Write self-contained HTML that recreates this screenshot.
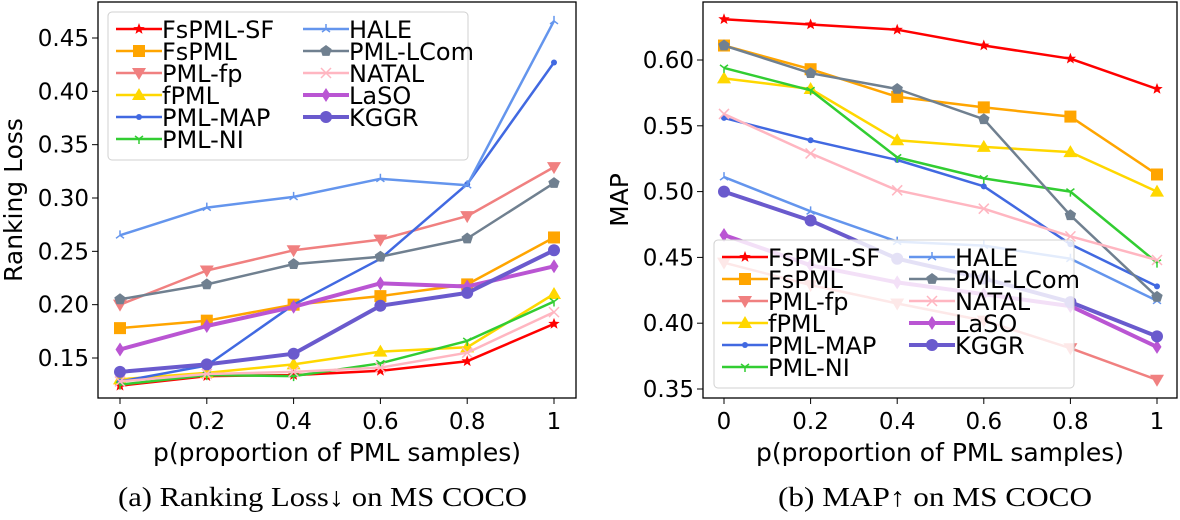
<!DOCTYPE html>
<html><head><meta charset="utf-8"><style>
body{margin:0;background:#fff;width:1180px;height:520px;overflow:hidden}
svg{display:block;font-family:"DejaVu Sans","Liberation Sans",sans-serif}
.cap{font-family:"Liberation Serif",serif}
</style></head><body>
<svg id="s" width="1180" height="520">
<text class="cap" x="118" y="506" font-size="27" textLength="409" lengthAdjust="spacingAndGlyphs">(a) Ranking Loss↓ on MS COCO</text>
<text class="cap" x="778" y="506" font-size="27" textLength="314" lengthAdjust="spacingAndGlyphs">(b) MAP↑ on MS COCO</text>
</svg>
<script>
const xCats=[0,0.2,0.4,0.6,0.8,1];
const xTickLabels=["0","0.2","0.4","0.6","0.8","1"];
const names=["FsPML-SF","FsPML","PML-fp","fPML","PML-MAP","PML-NI","HALE","PML-LCom","NATAL","LaSO","KGGR"];
const rlFsPMLSF=[0.124,0.133,0.134,0.138,0.147,0.182];
const rlFsPML=[0.178,0.185,0.200,0.208,0.219,0.263];
const rlPMLfp=[0.200,0.232,0.251,0.261,0.283,0.329];
const rlfPML=[0.130,0.136,0.144,0.156,0.160,0.210];
const rlPMLMAP=[0.128,0.143,0.200,0.243,0.313,0.427];
const rlPMLNI=[0.125,0.134,0.133,0.145,0.166,0.203];
const rlHALE=[0.265,0.291,0.301,0.318,0.312,0.466];
const rlLCom=[0.205,0.219,0.238,0.245,0.262,0.314];
const rlNATAL=[0.128,0.135,0.137,0.141,0.155,0.193];
const rlLaSO=[0.158,0.180,0.198,0.220,0.217,0.236];
const rlKGGR=[0.137,0.144,0.154,0.199,0.211,0.251];
const mapFsPMLSF=[0.631,0.627,0.623,0.611,0.601,0.578];
const mapFsPML=[0.611,0.593,0.572,0.564,0.557,0.513];
const mapPMLfp=[0.446,0.429,0.415,0.402,0.381,0.357];
const mapfPML=[0.586,0.578,0.539,0.534,0.530,0.500];
const mapPMLMAP=[0.556,0.539,0.524,0.504,0.460,0.428];
const mapPMLNI=[0.594,0.577,0.526,0.510,0.500,0.446];
const mapHALE=[0.511,0.485,0.462,0.459,0.449,0.417];
const mapLCom=[0.611,0.590,0.578,0.555,0.482,0.420];
const mapNATAL=[0.559,0.529,0.501,0.487,0.466,0.448];
const mapLaSO=[0.467,0.444,0.431,0.422,0.413,0.382];
const mapKGGR=[0.500,0.478,0.449,0.434,0.416,0.390];
const rlTicks=[0.15,0.20,0.25,0.30,0.35,0.40,0.45];
const mapTicks=[0.35,0.40,0.45,0.50,0.55,0.60];

const colors=["#ff0000","#ffa500","#f08080","#ffd700","#4169e1","#32cd32","#6495ed","#708090","#ffb6c1","#ba55d3","#6a5acd"];
const markers=["star","square","tdown","tup","dot","tri","tri2","pent","x","diamond","circle"];
const widths=[2.5,2.5,2.5,2.5,2.5,2.5,2.5,2.5,2.5,4,4];
const NS="http://www.w3.org/2000/svg";
const svg=document.getElementById('s');
function el(t,a,p){const e=document.createElementNS(NS,t);for(const k in a)e.setAttribute(k,a[k]);(p||svg).appendChild(e);return e;}
function marker(g,type,x,y,c){
  let e;
  if(type==="star"){let pts=[];for(let i=0;i<10;i++){const r=i%2?2.5:6,a=-Math.PI/2+i*Math.PI/5;pts.push((x+r*Math.cos(a)).toFixed(1)+","+(y+r*Math.sin(a)).toFixed(1));}e=el('polygon',{points:pts.join(' '),fill:c},g);}
  else if(type==="square")e=el('rect',{x:x-6,y:y-6,width:12,height:12,fill:c},g);
  else if(type==="tdown")e=el('polygon',{points:`${x-7},${y-5} ${x+7},${y-5} ${x},${y+7}`,fill:c},g);
  else if(type==="tup")e=el('polygon',{points:`${x-7},${y+5} ${x+7},${y+5} ${x},${y-7}`,fill:c},g);
  else if(type==="dot")e=el('circle',{cx:x,cy:y,r:3,fill:c},g);
  else if(type==="tri")e=el('path',{d:`M${x},${y}V${y+5}M${x},${y}L${x-4},${y-3}M${x},${y}L${x+4},${y-3}`,stroke:c,'stroke-width':1.5,fill:'none'},g);
  else if(type==="tri2")e=el('path',{d:`M${x},${y}V${y-5}M${x},${y}L${x-4},${y+3}M${x},${y}L${x+4},${y+3}`,stroke:c,'stroke-width':1.5,fill:'none'},g);
  else if(type==="pent"){let pts=[];for(let i=0;i<5;i++){const a=-Math.PI/2+i*2*Math.PI/5;pts.push((x+6*Math.cos(a)).toFixed(1)+","+(y+6*Math.sin(a)).toFixed(1));}e=el('polygon',{points:pts.join(' '),fill:c},g);}
  else if(type==="x")e=el('path',{d:`M${x-5},${y-5}L${x+5},${y+5}M${x-5},${y+5}L${x+5},${y-5}`,stroke:c,'stroke-width':1.5},g);
  else if(type==="diamond")e=el('polygon',{points:`${x},${y-7} ${x+4.5},${y} ${x},${y+7} ${x-4.5},${y}`,fill:c},g);
  else e=el('circle',{cx:x,cy:y,r:6,fill:c},g);
  
  
}
function chart(cfg){
  const g=el('g',{});
  
  
  const X=v=>cfg.x0+(v-xCats[0])/(xCats[5]-xCats[0])*(cfg.x1-cfg.x0);
  const Y=v=>cfg.yA+(v-cfg.vA)/(cfg.vB-cfg.vA)*(cfg.yB-cfg.yA);
  cfg.series.forEach((s,i)=>{
    const d=s.map((v,j)=>(j?'L':'M')+X(xCats[j]).toFixed(1)+','+Y(v).toFixed(1)).join('');
    const p=el('path',{d:d,stroke:colors[i],'stroke-width':widths[i],fill:'none','stroke-linejoin':'round'},g);
    
    
    s.forEach((v,j)=>marker(g,markers[i],X(xCats[j]),Y(v),colors[i]));
  });
  const box=el('rect',{x:cfg.bx0,y:2,width:cfg.bx1-cfg.bx0,height:396,fill:'none',stroke:'#000','stroke-width':1.3},g);
  
  
  xCats.forEach((c,j)=>{
    const x=X(c);
    el('line',{x1:x,x2:x,y1:398,y2:404,stroke:'#000'},g);
    const t=el('text',{x:x,y:429,'font-size':23,'text-anchor':'middle'},g);t.textContent=xTickLabels[j];
    
    
  });
  cfg.ticks.forEach(v=>{
    const y=Y(v);
    el('line',{x1:cfg.bx0-6,x2:cfg.bx0,y1:y,y2:y,stroke:'#000'},g);
    const t=el('text',{x:cfg.bx0-9,y:y+8,'font-size':23,'text-anchor':'end'},g);t.textContent=v.toFixed(2);
    
    
  });
  const xl=el('text',{x:(cfg.bx0+cfg.bx1)/2,y:461,'font-size':25,'text-anchor':'middle'},g);xl.textContent="p(proportion of PML samples)";
  
  
  const yl=el('text',{x:0,y:0,'font-size':25,'text-anchor':'middle',transform:`translate(${cfg.ylx},200) rotate(-90)`},g);yl.textContent=cfg.ylabel;
  
  
  const lg=el('g',{},g);
  
  
  el('rect',{x:cfg.lx,y:cfg.ly,width:360,height:148,rx:4,fill:'rgba(255,255,255,0.82)',stroke:'#d0d0d0'},lg);
  names.forEach((n,i)=>{
    const col=i<6?0:1,row=i<6?i:i-6;
    const x=cfg.lx+8+col*187,y=cfg.ly+17+row*22;
    el('line',{x1:x,x2:x+46,y1:y,y2:y,stroke:colors[i],'stroke-width':widths[i]},lg);
    marker(lg,markers[i],x+23,y,colors[i]);
    const t=el('text',{x:x+46,y:y+9,'font-size':24},lg);t.textContent=n;
    
    
  });
}
chart({name:'ranking-loss-chart',x0:120,x1:554,bx0:98,bx1:576,yA:358,vA:0.15,yB:38,vB:0.45,ticks:rlTicks,ylabel:'Ranking Loss',ylx:22,lx:108,ly:12,
  series:[rlFsPMLSF,rlFsPML,rlPMLfp,rlfPML,rlPMLMAP,rlPMLNI,rlHALE,rlLCom,rlNATAL,rlLaSO,rlKGGR]});
chart({name:'map-chart',x0:724,x1:1157,bx0:703,bx1:1177,yA:389,vA:0.35,yB:60,vB:0.60,ticks:mapTicks,ylabel:'MAP',ylx:628,lx:714,ly:240,
  series:[mapFsPMLSF,mapFsPML,mapPMLfp,mapfPML,mapPMLMAP,mapPMLNI,mapHALE,mapLCom,mapNATAL,mapLaSO,mapKGGR]});
</script>
</body></html>
